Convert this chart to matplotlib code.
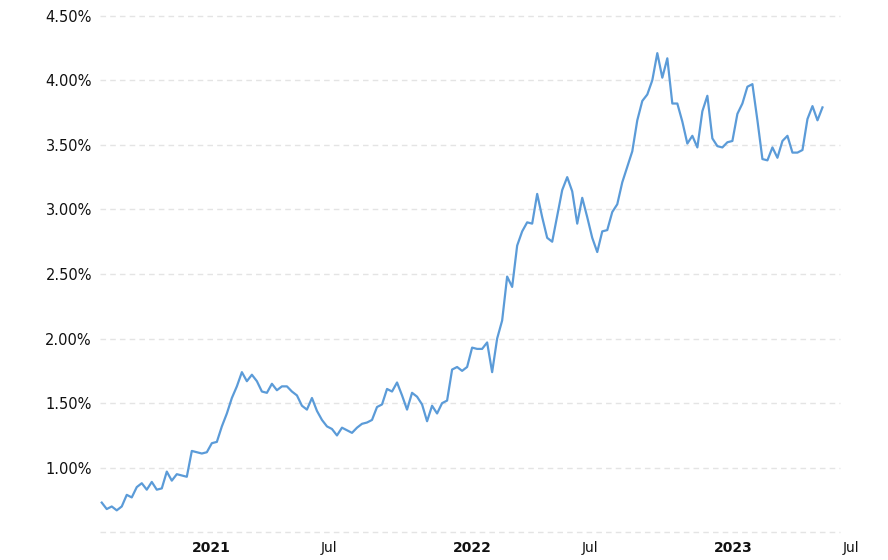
import matplotlib
matplotlib.use('Agg')
import matplotlib.pyplot as plt
import matplotlib.dates as mdates
import pandas as pd

# Weekly 10-year yield (%)
start_date = '2020-09-04'
yields = [
    0.73, 0.68, 0.70, 0.67, 0.70, 0.79, 0.77, 0.85, 0.88, 0.83,
    0.89, 0.83, 0.84, 0.97, 0.90, 0.95, 0.94, 0.93, 1.13, 1.12,
    1.11, 1.12, 1.19, 1.20, 1.32, 1.42, 1.54, 1.63, 1.74, 1.67,
    1.72, 1.67, 1.59, 1.58, 1.65, 1.60, 1.63, 1.63, 1.59, 1.56,
    1.48, 1.45, 1.54, 1.44, 1.37, 1.32, 1.30, 1.25, 1.31, 1.29,
    1.27, 1.31, 1.34, 1.35, 1.37, 1.47, 1.49, 1.61, 1.59, 1.66,
    1.56, 1.45, 1.58, 1.55, 1.49, 1.36, 1.48, 1.42, 1.50, 1.52,
    1.76, 1.78, 1.75, 1.78, 1.93, 1.92, 1.92, 1.97, 1.74, 2.00,
    2.14, 2.48, 2.40, 2.72, 2.83, 2.90, 2.89, 3.12, 2.94, 2.78,
    2.75, 2.95, 3.15, 3.25, 3.14, 2.89, 3.09, 2.94, 2.78, 2.67,
    2.83, 2.84, 2.98, 3.04, 3.21, 3.33, 3.45, 3.69, 3.84, 3.89,
    4.00, 4.21, 4.02, 4.17, 3.82, 3.82, 3.68, 3.51, 3.57, 3.48,
    3.76, 3.88, 3.55, 3.49, 3.48, 3.52, 3.53, 3.74, 3.82, 3.95,
    3.97, 3.69, 3.39, 3.38, 3.48, 3.40, 3.53, 3.57, 3.44, 3.44,
    3.46, 3.70, 3.80, 3.69, 3.79,
]
dates = pd.date_range(start_date, periods=len(yields), freq='7D')

y_ticks = [0.5, 1.0, 1.5, 2.0, 2.5, 3.0, 3.5, 4.0, 4.5]
y_tick_labels = ['', '1.00%', '1.50%', '2.00%', '2.50%', '3.00%', '3.50%', '4.00%', '4.50%']
x_tick_dates = ['2021-01-01', '2021-07-01', '2022-01-01', '2022-07-01', '2023-01-01', '2023-07-01']
x_tick_labels = ['2021', 'Jul', '2022', 'Jul', '2023', 'Jul']
x_tick_bold = [True, False, True, False, True, False]

fig = plt.figure(figsize=(8.88, 5.6), dpi=100)
ax = fig.add_axes([100 / 888, (560 - 532.3) / 560, 740 / 888, 516.6 / 560])

ax.plot(dates, yields, color='#5b9bd8', linewidth=1.6, solid_joinstyle='round', zorder=3)

ax.set_ylim(0.5, 4.5)
ax.set_xlim(pd.Timestamp('2020-09-01 14:00'), pd.Timestamp('2023-07-03 12:00'))

ax.set_yticks(y_ticks)
ax.set_yticklabels(y_tick_labels, fontsize=10.5, color='#111111')
tick_nums = mdates.date2num(pd.to_datetime(x_tick_dates).to_pydatetime())
ax.set_xticks(tick_nums)
ax.set_xticklabels([])

# x labels drawn left-aligned just after each tick date
for d, lab, bold in zip(tick_nums, x_tick_labels, x_tick_bold):
    ax.annotate(lab, xy=(d, 0), xycoords=ax.get_xaxis_transform(),
                xytext=(3.5, -6.5), textcoords='offset points',
                ha='left', va='top', fontsize=10, color='#111111',
                fontweight='bold' if bold else 'normal', annotation_clip=False)

ax.tick_params(axis='both', length=0)
ax.tick_params(axis='y', pad=5.8)
ax.grid(axis='x', visible=False)
ax.grid(axis='y', visible=False)
for yv in y_ticks:
    ax.axhline(yv, color='#e4e4e4', linestyle=(0, (4, 3)), linewidth=1.0,
               clip_on=False, zorder=1)
for s in ax.spines.values():
    s.set_visible(False)

fig.savefig('out.png', dpi=100)
